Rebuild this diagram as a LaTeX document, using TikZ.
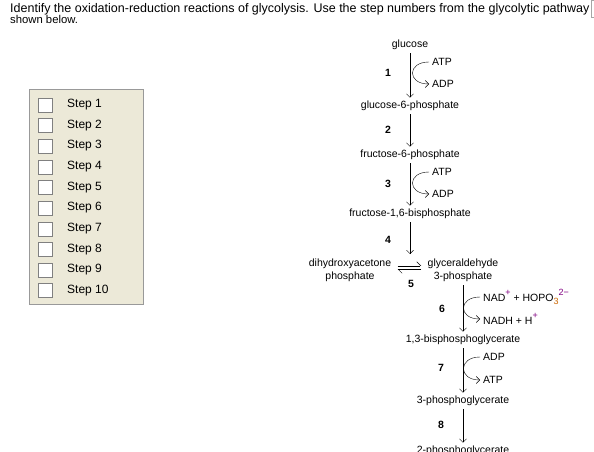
\documentclass[tikz,border=0pt]{standalone}
\usepackage{fontspec}
\setmainfont{Liberation Sans}
\usetikzlibrary{arrows.meta}
\definecolor{chgpurple}{RGB}{128,0,128}
\definecolor{chgorange}{RGB}{204,102,0}
\definecolor{panelbg}{RGB}{236,233,216}
\newcommand\chgsup[1]{\raisebox{0.5em}{\fontsize{9}{9}\selectfont\textcolor{chgpurple}{#1}}}
\newcommand\chgsub[1]{\raisebox{-0.3em}{\fontsize{9}{9}\selectfont\textcolor{chgorange}{#1}}}
\begin{document}
\begin{tikzpicture}[x=1pt,y=-1pt,
    >={Straight Barb[length=3.5pt,width=7pt]},
    every node/.style={font=\fontsize{10.5}{13}\selectfont},
    num/.style={font=\fontsize{10.5}{12}\selectfont\bfseries},
    side/.style={anchor=west,inner sep=3pt},
    chk/.style={draw=gray,fill=white,minimum size=14pt,inner sep=0pt},
    steplbl/.style={anchor=west,inner sep=0pt,font=\fontsize{12}{14}\selectfont},
    ttl/.style={anchor=base west,inner sep=0pt}]
  \useasboundingbox (0,0) rectangle (594,452);
  % question
  \draw
    (10,12.5) node[ttl,font=\fontsize{12.5}{13}\selectfont] (ttl1){Identify the oxidation-reduction reactions of glycolysis. Use the step numbers from the glycolytic pathway}
    (10,23.5) node[ttl,font=\fontsize{11.3}{13}\selectfont] (ttl2){shown below.};
  \draw[gray!70,line width=1pt] (594,0.5) -- (591,0.5) -- (591,17.5) -- (594,17.5);
  % answer panel
  \draw[draw=gray!80,fill=panelbg] (29.5,89.5) rectangle (143,304.5);
  \draw
    (44.7,104.7) node[chk] (c1){} (67,104.7) node[steplbl] (s1){Step 1}
    (44.7,125.4) node[chk] (c2){} (67,125.4) node[steplbl] (s2){Step 2}
    (44.7,146.0) node[chk] (c3){} (67,146.0) node[steplbl] (s3){Step 3}
    (44.7,166.7) node[chk] (c4){} (67,166.7) node[steplbl] (s4){Step 4}
    (44.7,187.3) node[chk] (c5){} (67,187.3) node[steplbl] (s5){Step 5}
    (44.7,208.0) node[chk] (c6){} (67,208.0) node[steplbl] (s6){Step 6}
    (44.7,228.7) node[chk] (c7){} (67,228.7) node[steplbl] (s7){Step 7}
    (44.7,249.3) node[chk] (c8){} (67,249.3) node[steplbl] (s8){Step 8}
    (44.7,270.0) node[chk] (c9){} (67,270.0) node[steplbl] (s9){Step 9}
    (44.7,290.6) node[chk] (c10){} (67,290.6) node[steplbl] (s10){Step 10};
  % pathway
  \draw
    (410,45) node (glc){glucose}
    (410,106) node (g6p){glucose-6-phosphate}
    (410,155) node (f6p){fructose-6-phosphate}
    (410,214) node (f16bp){fructose-1,6-bisphosphate}
    (350,270.5) node[align=center] (dhap){dihydroxyacetone\\phosphate}
    (463,270.5) node[align=center] (gap){glyceraldehyde\\3-phosphate}
    (463,340) node (bpg){1,3-bisphosphoglycerate}
    (463,401) node (pg3){3-phosphoglycerate}
    (463,451) node (pg2){2-phosphoglycerate};
  \coordinate (eq) at (410,254);
  \draw
    (388,73) node[num] (n1){1}
    (388,130) node[num] (n2){2}
    (388,184) node[num] (n3){3}
    (388,240) node[num] (n4){4}
    (411,284) node[num] (n5){5}
    (442,309) node[num] (n6){6}
    (441,368) node[num] (n7){7}
    (441,425) node[num] (n8){8};
  \draw
    (429,62) node[side] (atp1){ATP}
    (429,84) node[side] (adp1){ADP}
    (429,172) node[side] (atp3){ATP}
    (429,194) node[side] (adp3){ADP}
    (480,297) node[side] (nad){NAD\chgsup{+} + HOPO\chgsub{3}\chgsup{2−}}
    (480,319) node[side] (nadh){NADH + H\chgsup{+}}
    (480,357) node[side] (adp7){ADP}
    (480,380) node[side] (atp7){ATP};
  \begin{scope}[->]
    \draw (glc) to (g6p);
    \draw (g6p) to (f6p);
    \draw (f6p) to (f16bp);
    \draw (f16bp) to (eq);
    \draw (gap) to (bpg);
    \draw (bpg) to (pg3);
    \draw (pg3) to (pg2);
    \draw (atp1.west) .. controls +(-22,0) and +(-22,0) .. (adp1.west);
    \draw (atp3.west) .. controls +(-22,0) and +(-22,0) .. (adp3.west);
    \draw (nad.west) .. controls +(-22,0) and +(-22,0) .. (nadh.west);
    \draw (adp7.west) .. controls +(-22,0) and +(-22,0) .. (atp7.west);
  \end{scope}
  \begin{scope}[-{Straight Barb[left,length=4pt,width=8pt]},shorten <=3pt,shorten >=3pt]
    \draw ([yshift=4.8pt]dhap.east) -- ([yshift=4.8pt]gap.west);
    \draw ([yshift=1.2pt]gap.west) -- ([yshift=1.2pt]dhap.east);
  \end{scope}
\end{tikzpicture}
\end{document}
